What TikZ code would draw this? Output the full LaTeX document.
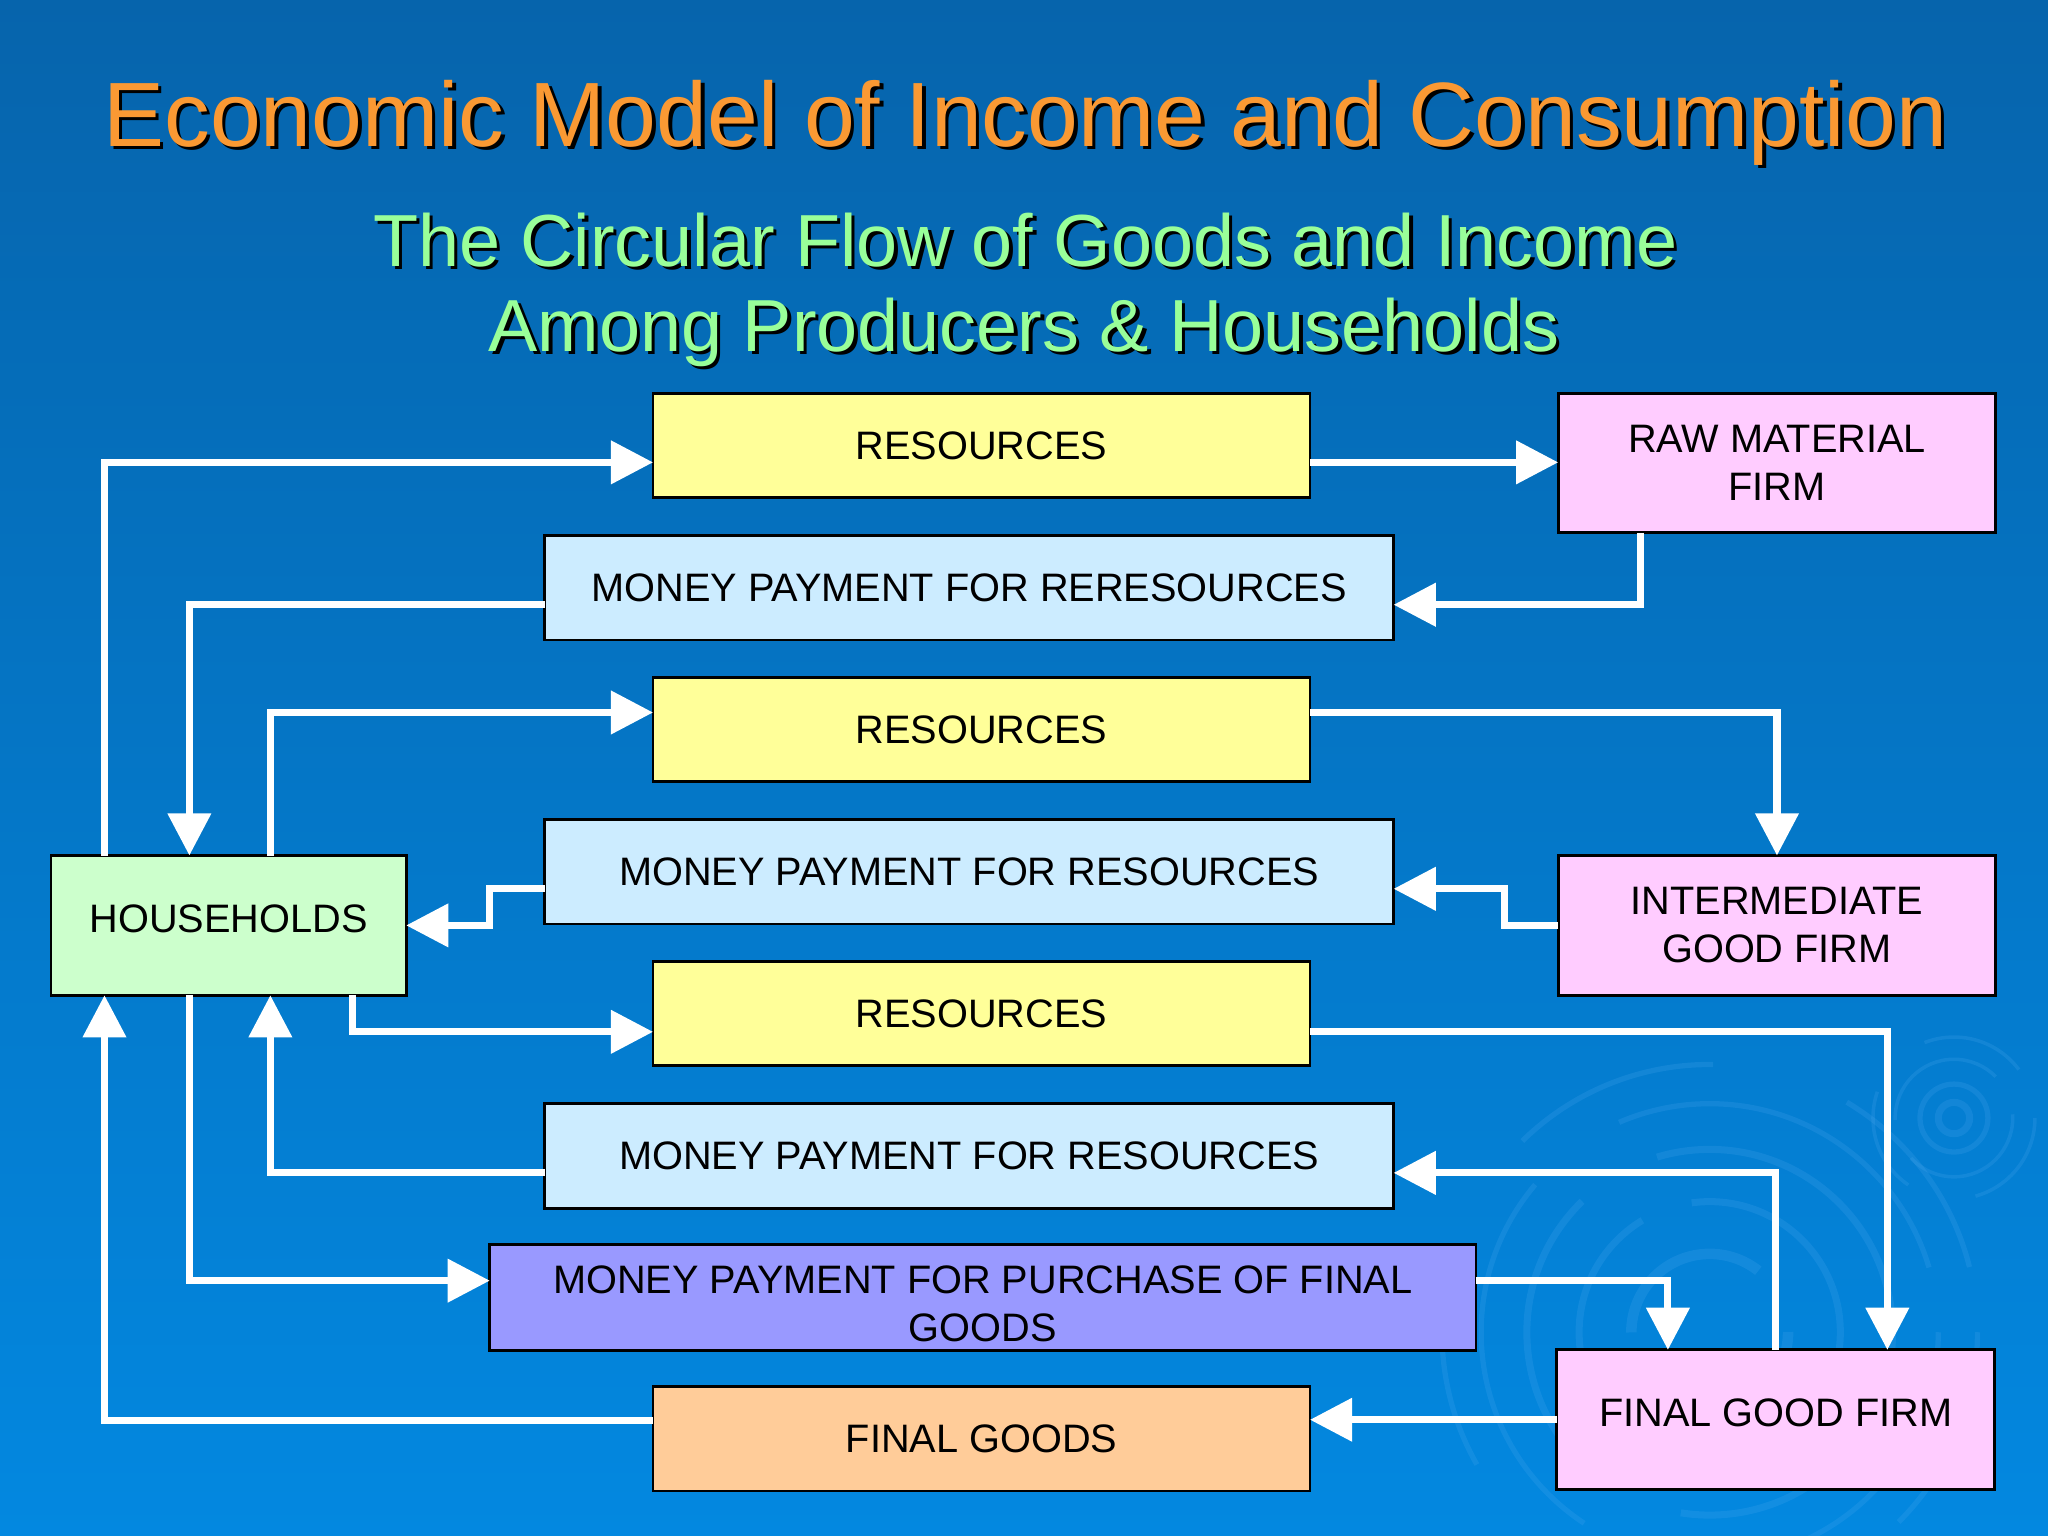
\documentclass[tikz,border=0pt]{standalone}
\usepackage{fontspec}
\setmainfont{Liberation Sans}
\usetikzlibrary{arrows.meta,calc}
\newlength\pu
\setlength\pu{0.01306cm}
\definecolor{bgtop}{RGB}{6,100,172}
\definecolor{bgmid}{RGB}{4,112,192}
\definecolor{bgbot}{RGB}{3,136,224}
\definecolor{ripple}{RGB}{80,170,240}
\definecolor{titleor}{RGB}{250,153,51}
\definecolor{subgreen}{RGB}{153,255,153}
\definecolor{cyel}{RGB}{255,255,153}
\definecolor{cpink}{RGB}{255,204,255}
\definecolor{cblue}{RGB}{204,236,255}
\definecolor{cgreen}{RGB}{204,255,204}
\definecolor{cpurple}{RGB}{153,153,255}
\definecolor{cpeach}{RGB}{255,204,153}
\newcommand\bxfont{\fontsize{11.3}{13.7}\selectfont}
\tikzset{
  box/.style={draw=black, line width=0.8pt, inner sep=0pt, outer sep=0pt,
    font=\bxfont, align=center, text=black},
  resbox/.style={box, fill=cyel, minimum width=503\pu, minimum height=80\pu},
  mpbox/.style={box, fill=cblue, minimum width=650\pu, minimum height=80\pu},
  firmbox/.style={box, fill=cpink, minimum width=335\pu, minimum height=107\pu},
  flow/.style={draw=white, line width=2pt, line join=miter,
    -{Triangle[length=12pt,width=12pt]}},
  titletext/.style={font=\fontsize{26}{30}\selectfont, anchor=base, inner sep=0pt},
  subtext/.style={font=\fontsize{21}{24}\selectfont, anchor=base, inner sep=0pt},
}
\begin{document}
\begin{tikzpicture}[x=0.01306cm, y=-0.01306cm]
\useasboundingbox (0,0) rectangle (1568,1176);
\shade[top color=bgtop, middle color=bgmid, bottom color=bgbot] (0,0) rectangle (1568,1176);
% decorative ripples
\coordinate (rs) at (1496,856);
\coordinate (rb) at (1309,1020);
\begin{scope}[draw=ripple, opacity=0.2]
  \draw[line width=2pt] (rs) circle[radius=12];
  \draw[line width=1.5pt] (rs) circle[radius=26];
  \draw[line width=1pt, dash pattern=on 40pt off 12pt] (rs) circle[radius=45];
  \draw[line width=1pt, dash pattern=on 30pt off 20pt] (rs) circle[radius=62];
  \draw[line width=3pt, dash pattern=on 50pt off 20pt] (rb) circle[radius=60];
  \draw[line width=2pt, dash pattern=on 70pt off 15pt] (rb) circle[radius=100];
  \draw[line width=2pt, dash pattern=on 90pt off 25pt] (rb) circle[radius=140];
  \draw[line width=1.5pt, dash pattern=on 110pt off 30pt] (rb) circle[radius=175];
  \draw[line width=1.5pt, dash pattern=on 60pt off 40pt] (rb) circle[radius=205];
\end{scope}
% titles
\node[titletext, text=black] (t1s) at ([xshift=1pt,yshift=-1pt]785,112) {Economic Model of Income and Consumption};
\node[titletext, text=titleor] (t1) at (785,112) {Economic Model of Income and Consumption};
\node[subtext, text=black] (t2s) at ([xshift=1pt,yshift=-1pt]785,204) {The Circular Flow of Goods and Income};
\node[subtext, text=subgreen] (t2) at (785,204) {The Circular Flow of Goods and Income};
\node[subtext, text=black] (t3s) at ([xshift=1pt,yshift=-1pt]784,269) {Among Producers \& Households};
\node[subtext, text=subgreen] (t3) at (784,269) {Among Producers \& Households};
% boxes
\node[resbox] (res1) at (751.5,341) {RESOURCES};
\node[firmbox] (raw) at (1360.5,354.5) {RAW MATERIAL\\FIRM};
\node[mpbox] (mp1) at (742,450) {MONEY PAYMENT FOR RERESOURCES};
\node[resbox] (res2) at (751.5,558.5) {RESOURCES};
\node[box, fill=cgreen, minimum width=272\pu, minimum height=107\pu, text depth=4pt] (hh) at (175,708.5) {HOUSEHOLDS};
\node[mpbox] (mp2) at (742,667.5) {MONEY PAYMENT FOR RESOURCES};
\node[firmbox] (inter) at (1360.5,708.5) {INTERMEDIATE\\GOOD FIRM};
\node[resbox] (res3) at (751.5,776) {RESOURCES};
\node[mpbox] (mp3) at (742,885) {MONEY PAYMENT FOR RESOURCES};
\node[box, fill=cpurple, minimum width=755\pu, minimum height=81\pu] (mpfg) at (752.5,993.5) {\\[-2.5pt]MONEY PAYMENT FOR PURCHASE OF FINAL\\GOODS};
\node[box, fill=cpeach, minimum width=503\pu, minimum height=80\pu] (fg) at (751.5,1101.5) {FINAL GOODS};
\node[firmbox, text depth=4pt] (fgf) at (1359.5,1087) {FINAL GOOD FIRM};
% helper coordinate
\coordinate (r1e) at ([yshift=-13\pu]res1.east);
% connectors
\draw[flow] ([xshift=41\pu]hh.north west) |- ([yshift=-13\pu]res1.west);
\draw[flow] (r1e) -- (r1e -| raw.west);
\draw[flow] ([xshift=63\pu]raw.south west) |- ([yshift=-13\pu]mp1.east);
\draw[flow] ([yshift=-13\pu]mp1.west) -| ([xshift=106\pu]hh.north west);
\draw[flow] ([xshift=168\pu]hh.north west) |- ([yshift=13\pu]res2.west);
\draw[flow] ([yshift=13\pu]res2.east) -| (inter.north);
\draw[flow] (inter.west) -- ++(-41\pu,0) |- ([yshift=-13\pu]mp2.east);
\draw[flow] ([yshift=-13\pu]mp2.west) -- ++(-42\pu,0) |- (hh.east);
\draw[flow] ([xshift=-41\pu]hh.south east) |- ([yshift=-14\pu]res3.west);
\draw[flow] ([yshift=-14\pu]res3.east) -| ([xshift=-82\pu]fgf.north east);
\draw[flow] (fgf.north) |- ([yshift=-13\pu]mp3.east);
\draw[flow] ([yshift=-13\pu]mp3.west) -| ([xshift=168\pu]hh.south west);
\draw[flow] ([xshift=106\pu]hh.south west) |- ([yshift=13\pu]mpfg.west);
\draw[flow] ([yshift=13\pu]mpfg.east) -| ([xshift=85\pu]fgf.north west);
\draw[flow] (fgf.west) -- (fgf.west -| fg.east);
\draw[flow] ([yshift=14\pu]fg.west) -| ([xshift=41\pu]hh.south west);
\end{tikzpicture}
\end{document}
